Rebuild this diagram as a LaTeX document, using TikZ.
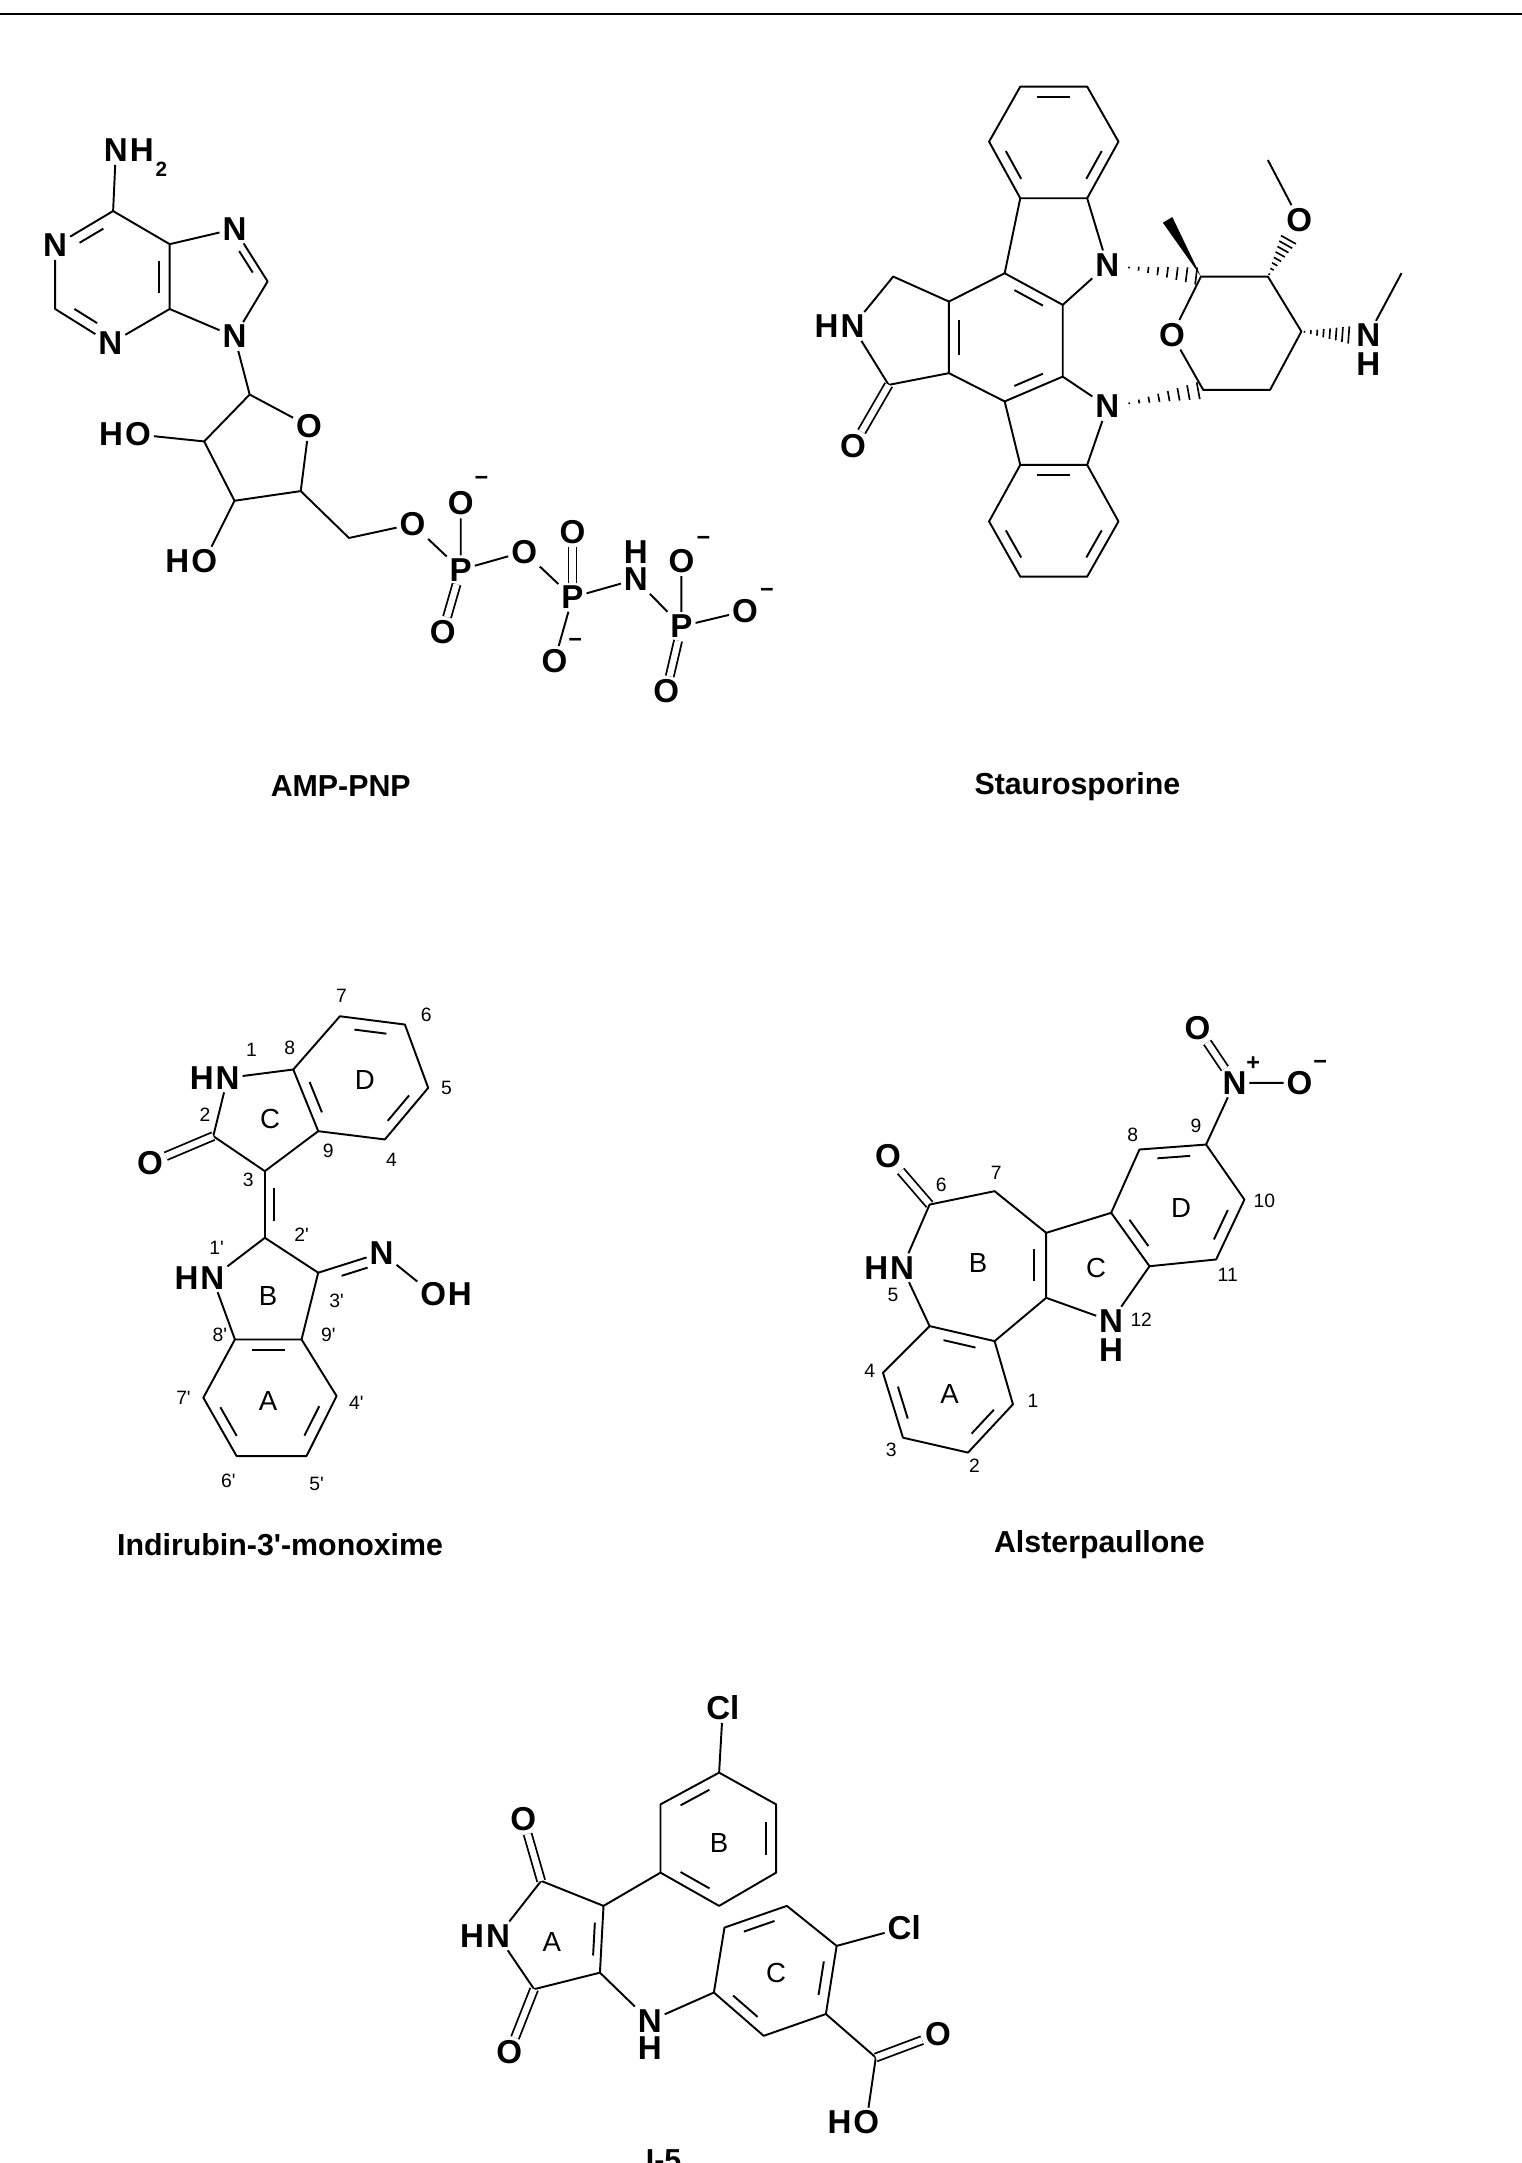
\documentclass[tikz,border=0pt]{standalone}
\usepackage{fontspec}
\setmainfont{Liberation Sans}
\usetikzlibrary{calc}
\tikzset{
 atom/.style={font=\bfseries\fontsize{24}{24}\selectfont, inner sep=1.5pt},
 hyd/.style={font=\bfseries\fontsize{24}{24}\selectfont, inner sep=0pt},
 num/.style={font=\fontsize{14}{14}\selectfont, inner sep=0pt},
 ring/.style={font=\fontsize{20}{20}\selectfont, inner sep=0pt},
 chg/.style={font=\bfseries\fontsize{17}{17}\selectfont, inner sep=0pt},
 ttl/.style={font=\bfseries\fontsize{22}{22}\selectfont, inner sep=0pt},
 dbl/.style={double, double distance=4.5pt, line width=1.3pt}
}
\newcommand\pr{\textquotesingle}
\newcommand\inb[3]{\draw ($ ($(#1)!.2!(#2)$)!.18!(#3) $) -- ($ ($(#1)!.8!(#2)$)!.18!(#3) $);}
\newcommand\inbl[3]{\draw ($ ($(#1)!.3!(#2)$)!.18!(#3) $) -- ($ ($(#1)!.8!(#2)$)!.18!(#3) $);}
\newcommand\hashb[2]{\foreach \t in {0,...,7}{\pgfmathsetmacro\w{0.6+\t*0.8}\pgfmathsetmacro\f{(\t+0.5)/8}\draw[line width=1.2pt] ($(#1)!\f!(#2)!\w pt!90:(#2)$) -- ($(#1)!\f!(#2)!\w pt!-90:(#2)$);}}
\begin{document}
\begin{tikzpicture}[x=1pt,y=-1pt,line width=1.4pt,line join=round]
\useasboundingbox (0,0) rectangle (1103,1568);
\draw[line width=1.3pt] (0,10) -- (1103,10);
%================ AMP-PNP
\node[atom] (aNH2) at (84,109) {N};
\node[hyd,anchor=west] (aNH2h) at ([xshift=-1.5pt]aNH2.east) {H};
\node[font=\bfseries\fontsize{15}{15}\selectfont,anchor=north west,inner sep=0] (aNH2s) at ([yshift=-8pt]aNH2h.east) {2};
\coordinate (aC6) at (82,153);
\node[atom] (aN1) at (40,178) {N};
\coordinate (aC2) at (40,224);
\node[atom] (aN3) at (80,249) {N};
\coordinate (aC4) at (123,224);
\coordinate (aC5) at (123,177);
\node[atom] (aN7) at (170,166) {N};
\coordinate (aC8) at (194,204);
\node[atom] (aN9) at (170,244) {N};
\coordinate (aPc) at (81,201);
\coordinate (aIc) at (156,203);
\coordinate (aCp1) at (181,286);
\node[atom] (aO4) at (224,309) {O};
\coordinate (aCp4) at (218,356);
\coordinate (aCp3) at (170,363);
\coordinate (aCp2) at (148,320);
\node[atom] (aOH2) at (100,315) {O};
\node[hyd,anchor=east] at ([xshift=1.5pt]aOH2.west) {H};
\node[atom] (aOH3) at (148,407) {O};
\node[hyd,anchor=east] at ([xshift=1.5pt]aOH3.west) {H};
\coordinate (aCp5) at (253,390);
\node[atom] (aO5) at (299,380) {O};
\node[atom] (aP1) at (334,413) {P};
\node[atom] (aP1a) at (334,365) {O};
\node[chg] at (349,349) {−};
\node[atom] (aP1b) at (321,458) {O};
\node[atom] (aOb) at (380,400) {O};
\node[atom] (aP2) at (415,433) {P};
\node[atom] (aP2a) at (415,386) {O};
\node[atom] (aP2b) at (402,479) {O};
\node[chg] at (417,466) {−};
\node[atom] (aNb) at (461,420) {N};
\node[atom] at (461,400) {H};
\node[atom] (aP3) at (494,454) {P};
\node[atom] (aP3a) at (494,407) {O};
\node[chg] at (510,392) {−};
\node[atom] (aP3c) at (540,443) {O};
\node[chg] at (556,430) {−};
\node[atom] (aP3b) at (483,501) {O};
\draw (aNH2) -- (aC6) -- (aN1) -- (aC2) -- (aN3) -- (aC4) -- (aC5) -- (aC6);
\draw (aC5) -- (aN7) -- (aC8) -- (aN9) -- (aC4);
\inbl{aN1}{aC6}{aPc} \inbl{aN3}{aC2}{aPc} \inb{aC4}{aC5}{aPc} \inbl{aN7}{aC8}{aIc}
\draw (aN9) -- (aCp1) -- (aO4) -- (aCp4) -- (aCp3) -- (aCp2) -- (aCp1);
\draw (aCp2) -- (aOH2); \draw (aCp3) -- (aOH3);
\draw (aCp4) -- (aCp5) -- (aO5) -- (aP1) -- (aP1a);
\draw[dbl] (aP1) -- (aP1b);
\draw (aP1) -- (aOb) -- (aP2);
\draw[dbl] (aP2) -- (aP2a);
\draw (aP2) -- (aP2b); \draw (aP2) -- (aNb) -- (aP3) -- (aP3a); \draw (aP3) -- (aP3c);
\draw[dbl] (aP3) -- (aP3b);
\node[ttl] (aT) at (247,570) {AMP-PNP};
%================ Staurosporine
\coordinate (sT1) at (739.6,62.8); \coordinate (sT2) at (788.1,62.8); \coordinate (sT3) at (810.8,102.7);
\coordinate (sT4) at (788.1,143.7); \coordinate (sT5) at (739.6,143.7); \coordinate (sT6) at (717,102.7);
\coordinate (sTc) at (763.9,103.2);
\draw (sT1) -- (sT2) -- (sT3) -- (sT4) -- (sT5) -- (sT6) -- cycle;
\inb{sT1}{sT2}{sTc} \inb{sT3}{sT4}{sTc} \inb{sT5}{sT6}{sTc}
\node[atom] (sN1) at (802.7,192) {N};
\node[atom] (sN2) at (802.7,294.7) {N};
\coordinate (sM1) at (728.3,198.1); \coordinate (sM2) at (770.4,221); \coordinate (sM3) at (770.4,273);
\coordinate (sM4) at (728.3,291); \coordinate (sM5) at (687.9,270.5); \coordinate (sM6) at (687.9,218.6);
\coordinate (sMc) at (729,245);
\draw (sM1) -- (sM2) -- (sM3) -- (sM4) -- (sM5) -- (sM6) -- cycle;
\inb{sM1}{sM2}{sMc} \inb{sM3}{sM4}{sMc} \inb{sM5}{sM6}{sMc}
\draw (sT4) -- (sN1) -- (sM2); \draw (sT5) -- (sM1);
\coordinate (sB1) at (739.6,337); \coordinate (sB2) at (788.1,337); \coordinate (sB3) at (810.8,378);
\coordinate (sB4) at (788.1,418); \coordinate (sB5) at (739.6,418); \coordinate (sB6) at (717,378);
\coordinate (sBc) at (764,377.5);
\draw (sB1) -- (sB2) -- (sB3) -- (sB4) -- (sB5) -- (sB6) -- cycle;
\inb{sB1}{sB2}{sBc} \inb{sB3}{sB4}{sBc} \inb{sB5}{sB6}{sBc}
\draw (sM3) -- (sN2) -- (sB2); \draw (sM4) -- (sB1);
\coordinate (sL1) at (647.5,200.5);
\node[atom] (sNL) at (618,236.7) {N};
\node[hyd,anchor=east] at ([xshift=1.5pt]sNL.west) {H};
\coordinate (sL2) at (644.2,279);
\node[atom] (sOL) at (618.4,323.6) {O};
\draw (sM6) -- (sL1) -- (sNL) -- (sL2) -- (sM5);
\draw[dbl] (sL2) -- (sOL);
\coordinate (sS1) at (870.6,200.5); \coordinate (sS2) at (919.1,200.5); \coordinate (sS3) at (943.4,240.3);
\coordinate (sS4) at (920.7,282.6); \coordinate (sS5) at (872.2,282.6);
\node[atom] (sOr) at (849.6,242.7) {O};
\draw (sOr) -- (sS1) -- (sS2) -- (sS3) -- (sS4) -- (sS5) -- (sOr);
\coordinate (sMe) at (846.4,159.4);
\fill (sS1) -- ($(sMe)!4pt!90:(sS1)$) -- ($(sMe)!4pt!-90:(sS1)$) -- cycle;
\coordinate (sh1) at (815,193.5);
\coordinate (sh2) at (815,293);
\hashb{sh1}{sS1}
\hashb{sh2}{sS5}
\node[atom] (sOM) at (941.8,159.4) {O};
\coordinate (sOMe) at (919.1,116);
\draw (sOM) -- (sOMe);
\coordinate (sh3) at (935,172);
\hashb{sS2}{sh3}
\node[atom] (sNM) at (991.9,243) {N};
\node[atom,inner sep=0pt] at (991.9,264) {H};
\coordinate (sNMe) at (1016,198);
\draw (sNM) -- (sNMe);
\coordinate (sh4) at (980,243);
\hashb{sS3}{sh4}
\node[ttl] (sT) at (781,570) {Staurosporine};
%================ Indirubin
\node[atom] (iN1) at (165,781.4) {N};
\node[hyd,anchor=east] at ([xshift=1.5pt]iN1.west) {H};
\coordinate (iC8) at (212.6,775.3); \coordinate (iC7) at (246.4,736.7); \coordinate (iC6) at (293.5,742.7);
\coordinate (iC5) at (310.4,788.6); \coordinate (iC4) at (279,826); \coordinate (iC9) at (230.7,820);
\coordinate (iDc) at (262,785);
\coordinate (iC3) at (192,849); \coordinate (iC2) at (154.6,823.6);
\node[atom] (iO) at (108.7,843) {O};
\coordinate (iC2p) at (192,897.3);
\node[atom] (iN1p) at (154,926.3) {N};
\node[hyd,anchor=east] at ([xshift=1.5pt]iN1p.west) {H};
\coordinate (iC3p) at (230.7,922.6);
\node[atom] (iNx) at (276.6,908.1) {N};
\node[atom] (iOH) at (314,938.3) {O};
\node[hyd,anchor=west] at ([xshift=-1.5pt]iOH.east) {H};
\coordinate (iC8p) at (170.3,971); \coordinate (iC9p) at (218.6,971); \coordinate (iC4p) at (244,1012);
\coordinate (iC5p) at (222.2,1055.5); \coordinate (iC6p) at (171.5,1055.5); \coordinate (iC7p) at (147.4,1013.2);
\coordinate (iAc) at (194,1013);
\draw (iN1) -- (iC8) -- (iC7) -- (iC6) -- (iC5) -- (iC4) -- (iC9) -- (iC8);
\draw (iC9) -- (iC3) -- (iC2) -- (iN1);
\inb{iC7}{iC6}{iDc} \inb{iC5}{iC4}{iDc} \inb{iC8}{iC9}{iDc}
\draw[dbl] (iC2) -- (iO);
\coordinate (iH1) at (230,873);
\draw (iC3) -- (iC2p); \inb{iC3}{iC2p}{iH1}
\draw (iC2p) -- (iN1p) -- (iC8p) -- (iC9p) -- (iC3p) -- (iC2p);
\draw (iC3p) -- (iNx);
\coordinate (iH2) at (262,955);
\inbl{iC3p}{iNx}{iH2}
\draw (iNx) -- (iOH);
\draw (iC8p) -- (iC7p) -- (iC6p) -- (iC5p) -- (iC4p) -- (iC9p);
\inb{iC8p}{iC9p}{iAc} \inb{iC7p}{iC6p}{iAc} \inb{iC4p}{iC5p}{iAc}
\node[num] at (182.4,760.8) {1}; \node[num] at (210,759.6) {8}; \node[num] at (247.6,722) {7};
\node[num] at (309,735.5) {6}; \node[num] at (323.7,788.6) {5}; \node[num] at (283.8,840.5) {4};
\node[num] at (238,834.5) {9}; \node[num] at (180,855) {3}; \node[num] at (148.6,808) {2};
\node[num] at (218.6,895) {2\pr}; \node[num] at (157,904.5) {1\pr}; \node[num] at (244,943) {3\pr};
\node[num] at (159.4,967.3) {8\pr}; \node[num] at (238,967.3) {9\pr}; \node[num] at (133,1013) {7\pr};
\node[num] at (258.4,1017) {4\pr}; \node[num] at (165.5,1073.6) {6\pr}; \node[num] at (229.5,1076) {5\pr};
\node[ring] at (264.5,782.6) {D}; \node[ring] at (195.7,811.5) {C};
\node[ring] at (194.4,939.5) {B}; \node[ring] at (194.4,1015.6) {A};
\node[ttl] (iT) at (203,1120) {Indirubin-3\pr-monoxime};
%================ Alsterpaullone
\node[atom] (lO) at (643.7,838.2) {O};
\coordinate (lC6) at (673.9,873.2); \coordinate (lC7) at (721,863.5); \coordinate (lC7a) at (758.4,893.7);
\coordinate (lC12a) at (758.4,940.8);
\node[atom] (lN5) at (654,919) {N};
\node[hyd,anchor=east] at ([xshift=1.5pt]lN5.west) {H};
\coordinate (lC4a) at (673.9,961.3); \coordinate (lC1a) at (721,972.2); \coordinate (lC1) at (734.3,1018);
\coordinate (lC2) at (701.7,1053); \coordinate (lC3) at (654.6,1042.2); \coordinate (lC4) at (640.1,995.2);
\node[atom] (lN12) at (805.5,957.7) {N};
\node[atom,inner sep=0pt] at (805.5,979) {H};
\coordinate (lC11a) at (833.3,917.9); \coordinate (lC7b) at (805.5,879.2); \coordinate (lC8) at (826,833.3);
\coordinate (lC9) at (874.3,829.7); \coordinate (lC10) at (902.1,869.6); \coordinate (lC11) at (881.6,913);
\node[atom] (lNp) at (894.9,785) {N};
\node[atom] (lOm) at (942,785) {O};
\node[atom] (lOt) at (868,745) {O};
\node[chg] at (908.5,771) {+}; \node[chg] at (957,772) {−};
\coordinate (lBc) at (710,915); \coordinate (lDc) at (854,872); \coordinate (lAc) at (687,1008);
\draw[dbl] (lC6) -- (lO);
\draw (lN5) -- (lC6) -- (lC7) -- (lC7a) -- (lC12a) -- (lC1a) -- (lC4a) -- (lN5);
\inb{lC7a}{lC12a}{lBc} \inb{lC4a}{lC1a}{lAc}
\draw (lC4a) -- (lC4) -- (lC3) -- (lC2) -- (lC1) -- (lC1a);
\inb{lC4}{lC3}{lAc} \inb{lC2}{lC1}{lAc}
\draw (lC7a) -- (lC7b) -- (lC11a) -- (lN12) -- (lC12a);
\draw (lC7b) -- (lC8) -- (lC9) -- (lC10) -- (lC11) -- (lC11a);
\inb{lC7b}{lC11a}{lDc} \inb{lC8}{lC9}{lDc} \inb{lC10}{lC11}{lDc}
\draw (lC9) -- (lNp) -- (lOm);
\draw[dbl] (lNp) -- (lOt);
\node[num] at (682.4,858.7) {6}; \node[num] at (722.2,850.3) {7}; \node[num] at (647.3,938.4) {5};
\node[num] at (630.4,994) {4}; \node[num] at (646.1,1050.7) {3}; \node[num] at (706.5,1062.8) {2};
\node[num] at (748.8,1015.7) {1}; \node[num] at (827.3,956.5) {12}; \node[num] at (890,924) {11};
\node[num] at (916.6,870.8) {10}; \node[num] at (867,816.4) {9}; \node[num] at (821.2,822.5) {8};
\node[ring] at (709,915.5) {B}; \node[ring] at (794.6,919) {C}; \node[ring] at (856.2,875.6) {D}; \node[ring] at (688.4,1010.8) {A};
\node[ttl] (lT) at (797,1120) {Alsterpaullone};
%================ I-5
\node[atom] (xCl1) at (524,1238) {Cl};
\coordinate (xB1) at (521.3,1285); \coordinate (xB2) at (562.6,1308); \coordinate (xB3) at (562.6,1357.5);
\coordinate (xB4) at (521.3,1381.6); \coordinate (xB5) at (478.8,1357.5); \coordinate (xB6) at (478.8,1308);
\coordinate (xBc) at (521,1333);
\draw (xCl1) -- (xB1) -- (xB2) -- (xB3) -- (xB4) -- (xB5) -- (xB6) -- (xB1);
\inb{xB6}{xB1}{xBc} \inb{xB2}{xB3}{xBc} \inb{xB4}{xB5}{xBc}
\node[ring] at (521.3,1335.7) {B};
\coordinate (xA3) at (437.5,1381.6); \coordinate (xA2) at (392.3,1363.5);
\node[atom] (xO1) at (379.4,1318.8) {O};
\node[atom] (xNA) at (361,1403.4) {N};
\node[hyd,anchor=east] at ([xshift=1.5pt]xNA.west) {H};
\coordinate (xA5) at (387.2,1442);
\node[atom] (xO2) at (369.1,1487.9) {O};
\coordinate (xA4) at (434.9,1430);
\coordinate (xAc) at (405,1405);
\draw (xB5) -- (xA3) -- (xA2) -- (xNA) -- (xA5) -- (xA4) -- (xA3);
\inb{xA3}{xA4}{xAc}
\node[ring] at (400,1408) {A};
\draw[dbl] (xA2) -- (xO1); \draw[dbl] (xA5) -- (xO2);
\node[atom] (xNH) at (471,1465) {N};
\node[atom,inner sep=0pt] at (471,1485) {H};
\coordinate (xC1) at (517.5,1444.4); \coordinate (xC2) at (525.2,1397.3); \coordinate (xC3) at (570.4,1381.6);
\coordinate (xC4) at (606.5,1410.6); \coordinate (xC5) at (598.7,1460); \coordinate (xC6) at (553.6,1475.8);
\coordinate (xCc) at (562,1428);
\draw (xA4) -- (xNH) -- (xC1) -- (xC2) -- (xC3) -- (xC4) -- (xC5) -- (xC6) -- (xC1);
\inb{xC2}{xC3}{xCc} \inb{xC4}{xC5}{xCc} \inb{xC6}{xC1}{xCc}
\node[ring] at (562.6,1430) {C};
\node[atom] (xCl2) at (655.5,1397.3) {Cl};
\draw (xC4) -- (xCl2);
\coordinate (xCO) at (634.9,1491.5);
\node[atom] (xOc) at (680,1474.6) {O};
\node[atom] (xOH) at (628,1538.6) {O};
\node[hyd,anchor=east] at ([xshift=1.5pt]xOH.west) {H};
\draw (xC5) -- (xCO) -- (xOH);
\draw[dbl] (xCO) -- (xOc);
\node[ttl] (xT) at (481,1566) {I-5};
\end{tikzpicture}
\end{document}
